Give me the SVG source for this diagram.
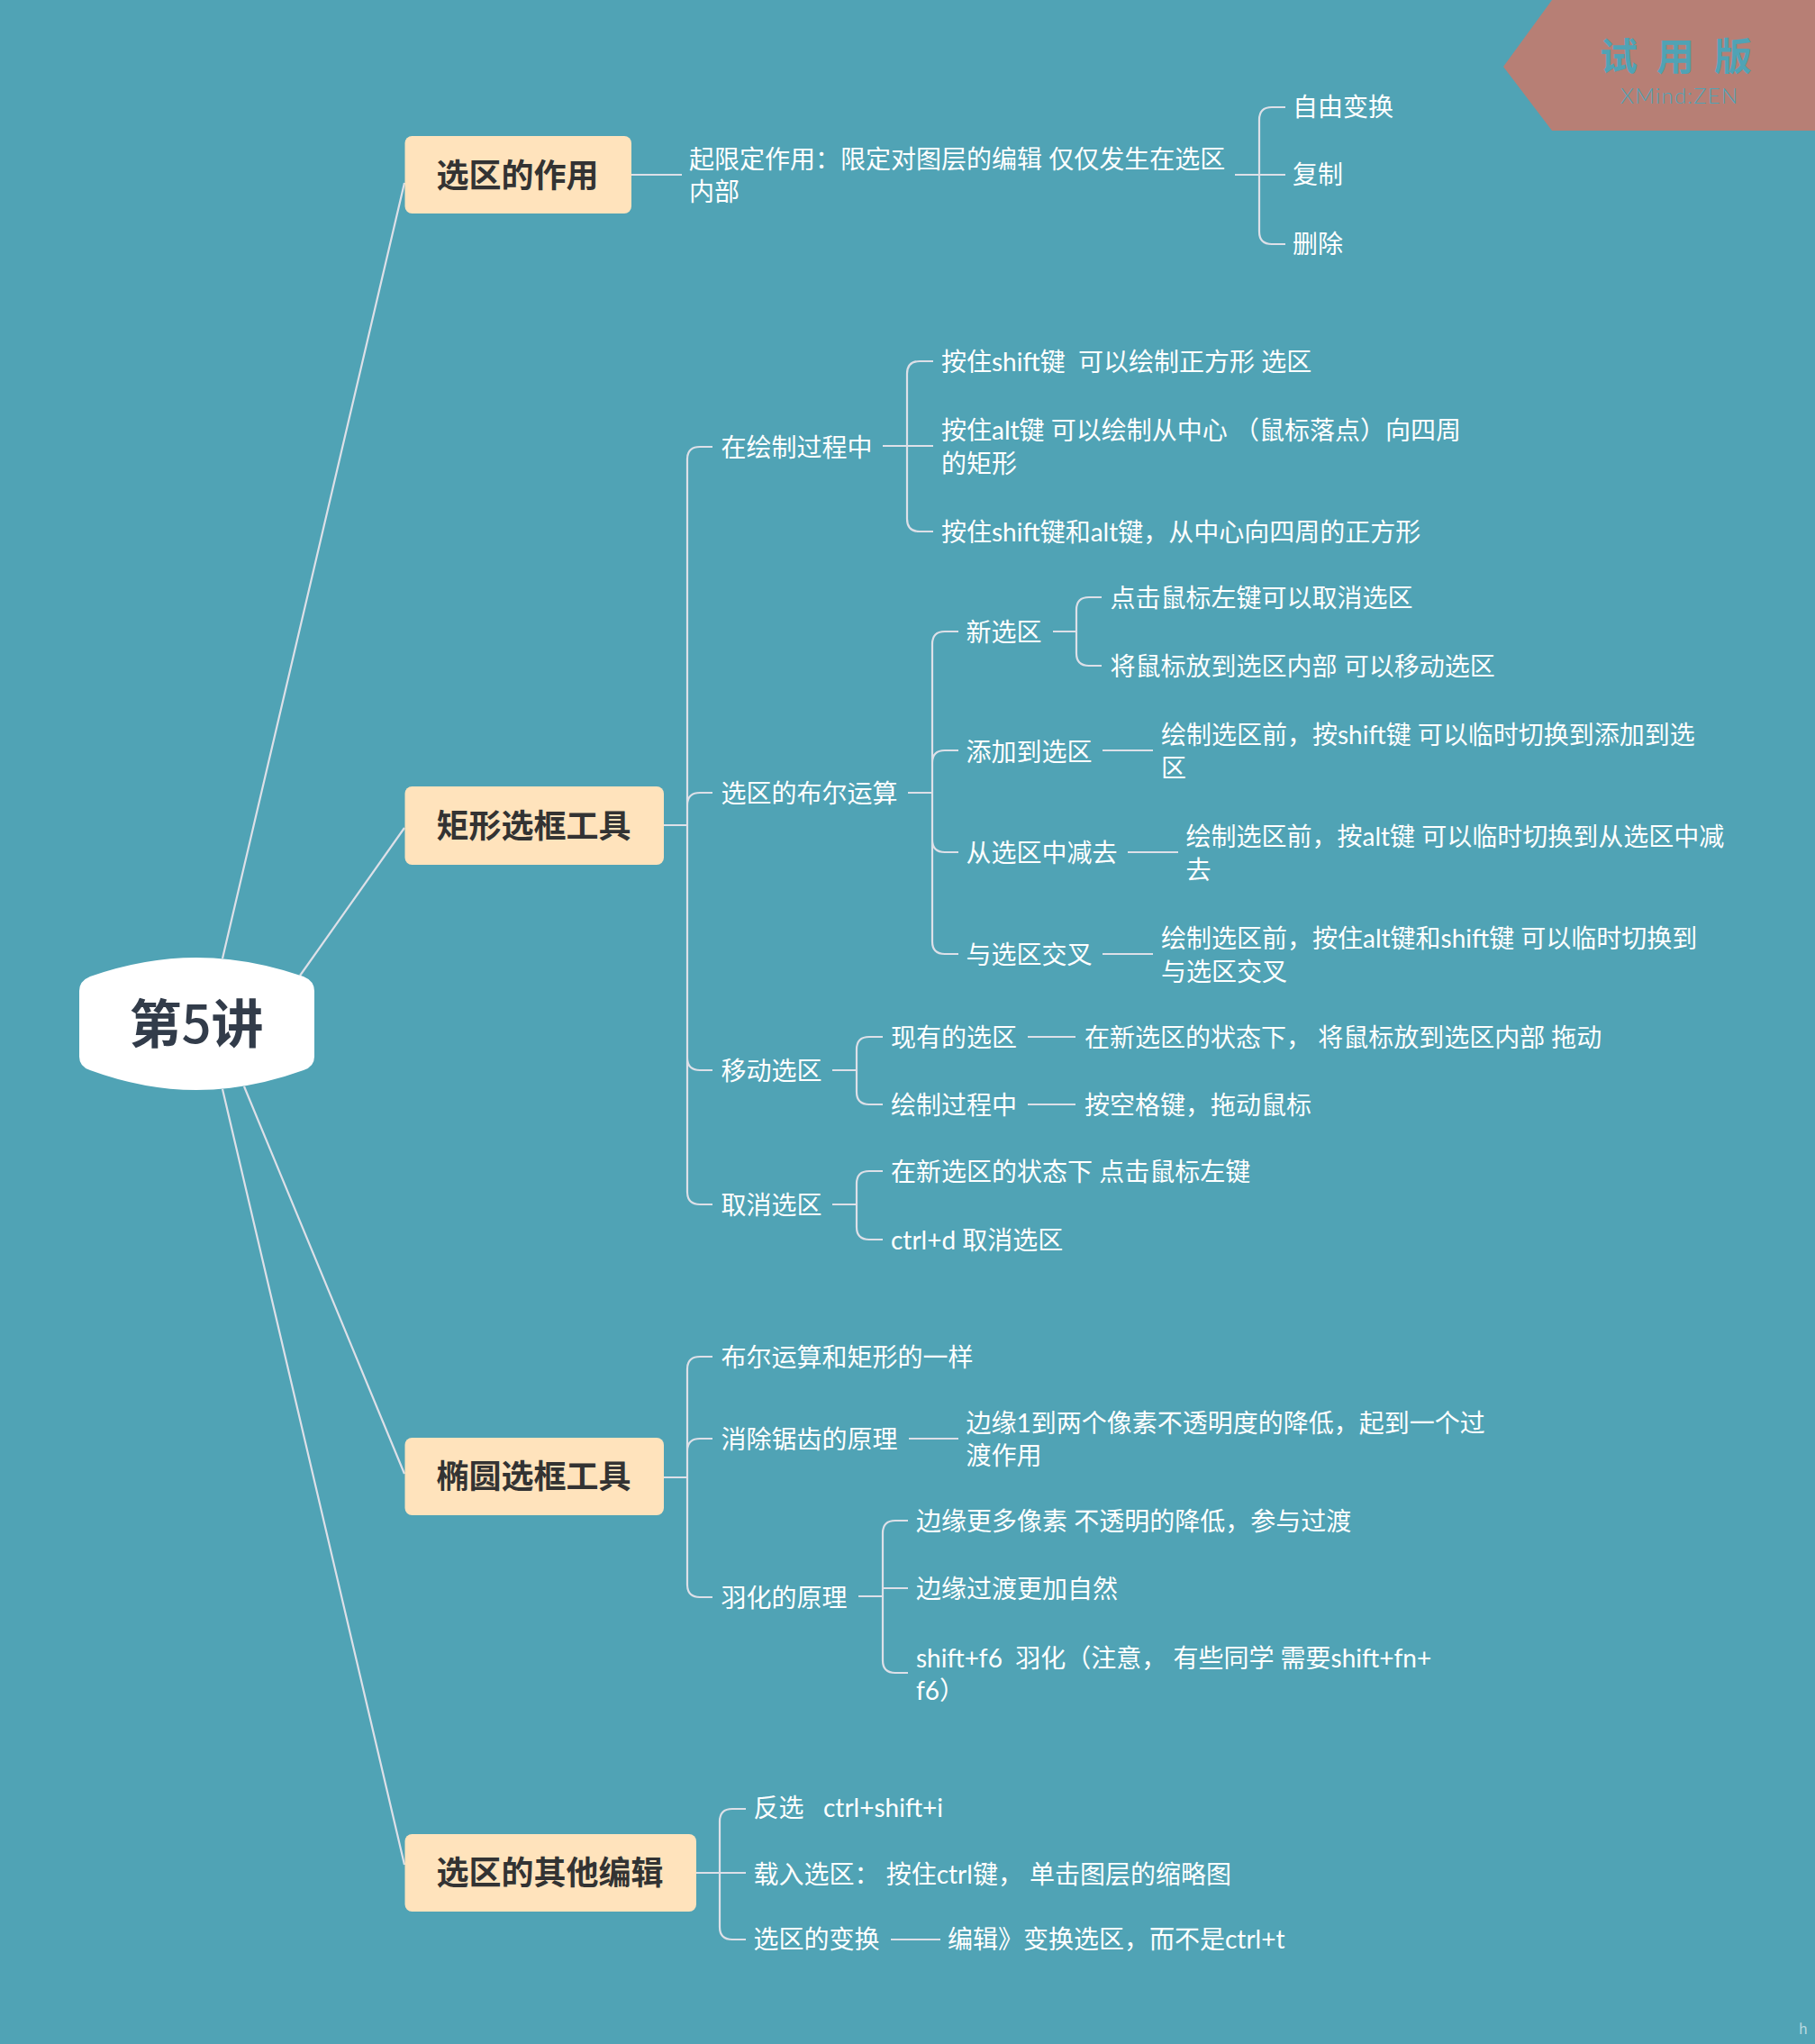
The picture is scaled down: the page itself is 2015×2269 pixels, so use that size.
<svg xmlns="http://www.w3.org/2000/svg" width="2015" height="2269" viewBox="0 0 2015 2269">
<style>
text{font-family:"Noto Sans CJK SC",sans-serif;white-space:pre}
.t{font-size:28px;fill:#fff;font-family:Lato,"Noto Sans CJK SC",sans-serif}
.h{font-size:36px;font-weight:700;fill:#333;font-family:"Noto Sans CJK SC",sans-serif}
.b{fill:#FFE3BC}
.c{fill:none;stroke:#DDE0E8;stroke-width:2.2}
</style>
<rect width="2015" height="2269" fill="#50A3B5"/>
<g id="connectors" class="c">
<path d="M247 1064L449 203M333 1083L449 919M271 1206L449 1636M247 1209L449 2070"/>
<path d="M701 194H757"/>
<path d="M1371 194H1427M1427 119H1412Q1398 119 1398 133V257Q1398 271 1412 271H1427"/>
<path d="M737 916H763M791 496H777Q763 496 763 510V1323Q763 1337 777 1337H791M763 894Q763 880 777 880H791M763 1174Q763 1188 777 1188H791"/>
<path d="M980 495H1036M1036 401H1021Q1007 401 1007 415V576Q1007 590 1021 590H1036"/>
<path d="M1008 880H1035M1064 701H1049Q1035 701 1035 715V1045Q1035 1059 1049 1059H1064M1035 847Q1035 833 1049 833H1064M1035 932Q1035 946 1049 946H1064"/>
<path d="M1169 701H1195M1223 663H1209Q1195 663 1195 677V725Q1195 739 1209 739H1223"/>
<path d="M1224 833H1280M1252 946H1308M1224 1059H1280"/>
<path d="M924 1188H951M980 1151H965Q951 1151 951 1165V1212Q951 1226 965 1226H980"/>
<path d="M1141 1151H1194M1141 1226H1194"/>
<path d="M924 1337H951M980 1300H965Q951 1300 951 1314V1362Q951 1376 965 1376H980"/>
<path d="M737 1640H763M791 1506H777Q763 1506 763 1520V1759Q763 1773 777 1773H791M763 1611Q763 1597 777 1597H791"/>
<path d="M1009 1597H1064"/>
<path d="M953 1772H980M1008 1688H994Q980 1688 980 1702V1843Q980 1857 994 1857H1008M980 1763H1008"/>
<path d="M773 2079H828M828 2008H813Q799 2008 799 2022V2139Q799 2153 813 2153H828"/>
<path d="M989 2153H1044"/>
</g>
<g id="watermark">
<polygon points="1723,0 2015,0 2015,145 1723,145 1669,74" fill="#B77F75"/>
<text x="1776" y="78" style="font-size:42px;font-weight:700;fill:#50A3B5">试</text>
<text x="1839" y="78" style="font-size:42px;font-weight:700;fill:#50A3B5">用</text>
<text x="1903" y="78" style="font-size:42px;font-weight:700;fill:#50A3B5">版</text>
<text x="1799" y="115" style="font-size:24px;font-weight:300;letter-spacing:1.2px;fill:#50A3B5;font-family:Lato,sans-serif">XMind:ZEN</text>
</g>
<g id="center">
<path d="M88 1100Q88 1089 100 1084Q160 1063 218 1063Q276 1063 337 1084Q349 1089 349 1100V1173Q349 1184 337 1188Q276 1210 218 1210Q160 1210 100 1188Q88 1184 88 1173Z" fill="#fff"/>
<text x="218" y="1158" text-anchor="middle" style="font-size:58px;font-weight:700;fill:#323C4A">第<tspan style="font-weight:500">5</tspan>讲</text>
</g>
<g id="topic1"><rect class="b" x="449.5" y="151" width="251.5" height="86" rx="8"/><text class="h" x="484.5" y="208">选区的作用</text></g>
<g id="topic2"><rect class="b" x="449.5" y="873" width="287.5" height="87" rx="8"/><text class="h" x="484.5" y="930">矩形选框工具</text></g>
<g id="topic3"><rect class="b" x="449.5" y="1596" width="287.5" height="86" rx="8"/><text class="h" x="484.5" y="1652">椭圆选框工具</text></g>
<g id="topic4"><rect class="b" x="449.5" y="2036" width="323.5" height="86" rx="8"/><text class="h" x="484.5" y="2092">选区的其他编辑</text></g>
<g id="n1"><text class="t" x="765" y="187">起限定作用：限定对图层的编辑 仅仅发生在选区</text><text class="t" x="765" y="223">内部</text></g>
<g id="n2"><text class="t" x="1435" y="129">自由变换</text></g>
<g id="n3"><text class="t" x="1435" y="204">复制</text></g>
<g id="n4"><text class="t" x="1435" y="281">删除</text></g>
<g id="n5"><text class="t" x="800.5" y="507">在绘制过程中</text></g>
<g id="n6"><text class="t" x="1045" y="412">按住shift键  可以绘制正方形 选区</text></g>
<g id="n7"><text class="t" x="1045" y="488">按住alt键 可以绘制从中心 （鼠标落点）向四周</text><text class="t" x="1045" y="525">的矩形</text></g>
<g id="n8"><text class="t" x="1045" y="601">按住shift键和alt键，从中心向四周的正方形</text></g>
<g id="n9"><text class="t" x="800.5" y="891">选区的布尔运算</text></g>
<g id="n10"><text class="t" x="1072.5" y="712">新选区</text></g>
<g id="n11"><text class="t" x="1232.5" y="674">点击鼠标左键可以取消选区</text></g>
<g id="n12"><text class="t" x="1232.5" y="750">将鼠标放到选区内部 可以移动选区</text></g>
<g id="n13"><text class="t" x="1072.5" y="845">添加到选区</text></g>
<g id="n14"><text class="t" x="1289" y="826">绘制选区前，按shift键 可以临时切换到添加到选</text><text class="t" x="1289" y="863">区</text></g>
<g id="n15"><text class="t" x="1072.5" y="957">从选区中减去</text></g>
<g id="n16"><text class="t" x="1316.5" y="939">绘制选区前，按alt键 可以临时切换到从选区中减</text><text class="t" x="1316.5" y="976">去</text></g>
<g id="n17"><text class="t" x="1072.5" y="1070">与选区交叉</text></g>
<g id="n18"><text class="t" x="1289" y="1052">绘制选区前，按住alt键和shift键 可以临时切换到</text><text class="t" x="1289" y="1089">与选区交叉</text></g>
<g id="n19"><text class="t" x="800.5" y="1199">移动选区</text></g>
<g id="n20"><text class="t" x="989" y="1162">现有的选区</text></g>
<g id="n21"><text class="t" x="1204" y="1162">在新选区的状态下， 将鼠标放到选区内部 拖动</text></g>
<g id="n22"><text class="t" x="989" y="1237">绘制过程中</text></g>
<g id="n23"><text class="t" x="1204" y="1237">按空格键，拖动鼠标</text></g>
<g id="n24"><text class="t" x="800.5" y="1348">取消选区</text></g>
<g id="n25"><text class="t" x="989" y="1311">在新选区的状态下 点击鼠标左键</text></g>
<g id="n26"><text class="t" x="989" y="1387">ctrl+d 取消选区</text></g>
<g id="n27"><text class="t" x="800.5" y="1517">布尔运算和矩形的一样</text></g>
<g id="n28"><text class="t" x="800.5" y="1608">消除锯齿的原理</text></g>
<g id="n29"><text class="t" x="1072.5" y="1590">边缘1到两个像素不透明度的降低，起到一个过</text><text class="t" x="1072.5" y="1626">渡作用</text></g>
<g id="n30"><text class="t" x="800.5" y="1784">羽化的原理</text></g>
<g id="n31"><text class="t" x="1017" y="1699">边缘更多像素 不透明的降低，参与过渡</text></g>
<g id="n32"><text class="t" x="1017" y="1774">边缘过渡更加自然</text></g>
<g id="n33"><text class="t" x="1017" y="1851">shift+f6  羽化（注意， 有些同学 需要shift+fn+</text><text class="t" x="1017" y="1887">f6）</text></g>
<g id="n34"><text class="t" x="836.5" y="2017">反选   ctrl+shift+i</text></g>
<g id="n35"><text class="t" x="836.5" y="2091">载入选区： 按住ctrl键， 单击图层的缩略图</text></g>
<g id="n36"><text class="t" x="836.5" y="2163">选区的变换</text></g>
<g id="n37"><text class="t" x="1052" y="2163">编辑》变换选区，而不是ctrl+t</text></g>
<text x="1997" y="2258" style="font-size:16px;fill:#fff;fill-opacity:.6">h</text>
</svg>
